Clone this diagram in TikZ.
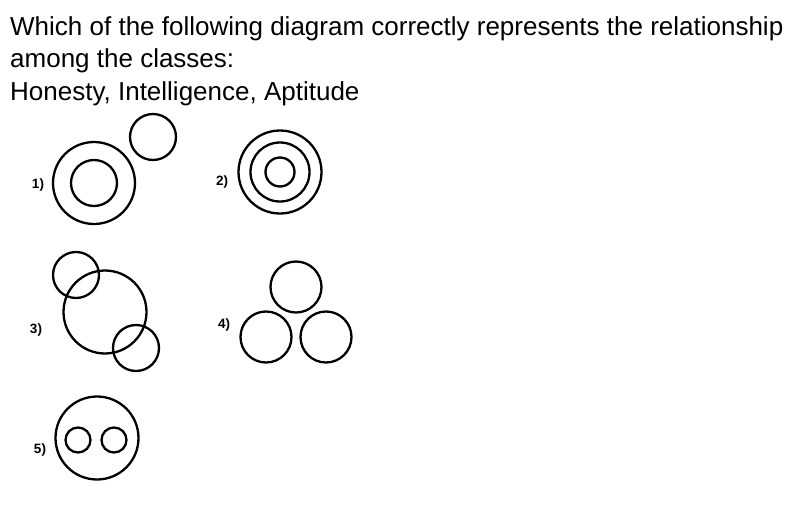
\documentclass[tikz,border=0pt]{standalone}
\usepackage{fontspec}
\setmainfont{Liberation Sans}
\usetikzlibrary{positioning}

\begin{document}
\begin{tikzpicture}[x=1pt,y=-1pt,
  ring/.style={shape=circle,draw=black,line width=2.3pt,inner sep=0pt},
  qline/.style={anchor=base west,inner sep=0pt,font=\fontsize{26}{32}\selectfont},
  optlabel/.style={font=\fontsize{13.5}{13.5}\selectfont\bfseries,inner sep=0pt}]
\useasboundingbox (0,0) rectangle (800,504);
\node at (10,35) [qline] (question-1) {Which of the following diagram correctly represents the relationship};
\node at (10,67.5) [qline] (question-2) {among the classes:};
\node at (10,100) [qline] (question-3) {Honesty, Intelligence, Aptitude};

\node at (38,185) [optlabel] (lab1) {1)};
\node at (94,183) [ring,minimum size=82pt] (one-outer) {};
\node at (94,183) [ring,minimum size=46pt] (one-inner) {};
\node at (153,137) [ring,minimum size=46pt] (one-apart) {};

\node at (222,182) [optlabel] (lab2) {2)};
\node at (280,172) [ring,minimum size=83pt] (two-outer) {};
\node at (280,172) [ring,minimum size=59pt] (two-middle) {};
\node at (280,172) [ring,minimum size=29pt] (two-inner) {};

\node at (36,330) [optlabel] (lab3) {3)};
\node at (105,312) [ring,minimum size=83pt] (three-big) {};
\node at (76,275) [ring,minimum size=46pt] (three-upper) {};
\node at (136,348) [ring,minimum size=46pt] (three-lower) {};

\node at (224,325) [optlabel] (lab4) {4)};
\node at (296,287) [ring,minimum size=51pt] (four-top) {};
\node at (266,337) [ring,minimum size=51pt] (four-left) {};
\node at (326,337) [ring,minimum size=51pt] (four-right) {};

\node at (40,450) [optlabel] (lab5) {5)};
\node at (97,438) [ring,minimum size=83pt] (five-outer) {};
\node at (78,440) [ring,minimum size=25pt] (five-left) {};
\node at (114,440) [ring,minimum size=25pt] (five-right) {};
\end{tikzpicture}
\end{document}
